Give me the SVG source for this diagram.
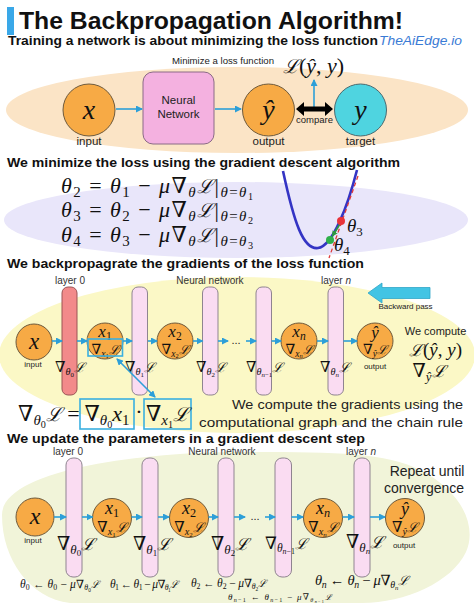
<svg xmlns="http://www.w3.org/2000/svg" width="474" height="603" viewBox="0 0 474 603">
<defs>
<style>
.hd{font-family:"Liberation Sans",Arial,sans-serif;font-weight:bold;fill:#111}
.t{font-family:"Liberation Sans",Arial,sans-serif;fill:#222}
.m{font-family:"Liberation Serif","DejaVu Serif",serif;fill:#111}
.i{font-style:italic}
.L{font-style:italic;font-size:88%}
.s{font-size:68%;baseline-shift:-0.28em}
.node{fill:#f7aa45;stroke:#6e5a3c;stroke-width:1}
.bar{fill:#fadcf2;stroke:#8f8490;stroke-width:1}
.bar0{fill:#f28a8a;stroke:#9a5555;stroke-width:1}
.ar{stroke:#2d9fd8;stroke-width:1.6;fill:none;marker-end:url(#ah)}
.box{fill:none;stroke:#3ab0e0;stroke-width:1.6}
.lb{font-family:"Liberation Sans",Arial,sans-serif;fill:#333;font-size:10px}
</style>
<marker id="ah" markerUnits="userSpaceOnUse" markerWidth="7" markerHeight="7" refX="6" refY="3.5" orient="auto"><path d="M0,0 L7,3.5 L0,7 Z" fill="#2d9fd8"/></marker>
<marker id="ahs" markerUnits="userSpaceOnUse" markerWidth="7" markerHeight="7" refX="1" refY="3.5" orient="auto"><path d="M7,0 L0,3.5 L7,7 Z" fill="#2d9fd8"/></marker>
<marker id="ag" markerUnits="userSpaceOnUse" markerWidth="6" markerHeight="6" refX="5" refY="3" orient="auto"><path d="M0,0 L6,3 L0,6 Z" fill="#2e9a3e"/></marker>
</defs>
<rect width="474" height="603" fill="#ffffff"/>

<!-- backgrounds -->
<ellipse cx="237" cy="110" rx="231" ry="43" fill="#fbe4c6"/>
<ellipse cx="236" cy="220" rx="232" ry="38" fill="#e9e6fa"/>
<ellipse cx="237" cy="355" rx="238" ry="78" fill="#fbf8c6"/>
<path d="M2,515 C2,470 140,452 240,452 C330,452 385,452 420,470 C460,490 478,525 466,552 C452,582 405,603 362,603 L70,603 C30,598 2,560 2,515 Z" fill="#f1f4d9"/>

<!-- title -->
<rect x="7" y="7" width="7" height="28" fill="#3aa8e8"/>
<text class="hd" x="19" y="29" font-size="23" textLength="384" lengthAdjust="spacingAndGlyphs">The Backpropagation Algorithm!</text>
<text class="hd" x="8" y="45" font-size="13.5" textLength="370" lengthAdjust="spacingAndGlyphs">Training a network is about minimizing the loss function</text>
<text x="379" y="45" font-family="Liberation Sans,Arial,sans-serif" font-style="italic" font-size="12.5" fill="#3a7bd5" textLength="83" lengthAdjust="spacingAndGlyphs">TheAiEdge.io</text>

<!-- section 1 -->
<text class="t" x="172" y="64" font-size="9" textLength="102" lengthAdjust="spacingAndGlyphs">Minimize a loss function</text>
<text class="m" x="283" y="73" font-size="22"><tspan class="L">ℒ</tspan>(<tspan class="i">ŷ</tspan>, <tspan class="i">y</tspan>)</text>

<g id="n-input">
<circle class="node" cx="89" cy="110" r="26"/>
<text class="m i" x="89" y="119" font-size="28" text-anchor="middle">x</text>
<text class="t" x="89" y="145" font-size="11.5" text-anchor="middle">input</text>
</g>
<g id="n-nn">
<rect x="143" y="72" width="71" height="72" rx="10" fill="#f4b1e0" stroke="#8a6a86" stroke-width="1"/>
<text class="t" x="178.5" y="104" font-size="11.5" text-anchor="middle">Neural</text>
<text class="t" x="178.5" y="118" font-size="11.5" text-anchor="middle">Network</text>
</g>
<g id="n-output">
<circle class="node" cx="268.5" cy="110" r="26"/>
<text class="m i" x="268.5" y="119" font-size="28" text-anchor="middle">ŷ</text>
<text class="t" x="268.5" y="145" font-size="11.5" text-anchor="middle">output</text>
</g>
<g id="n-target">
<circle cx="360.5" cy="110" r="26" fill="#4fd4e0" stroke="#4a6a70" stroke-width="1"/>
<text class="m i" x="360.5" y="119" font-size="28" text-anchor="middle">y</text>
<text class="t" x="360.5" y="145" font-size="11.5" text-anchor="middle">target</text>
</g>
<g id="c-sec1">
<line class="ar" x1="116" y1="109" x2="142" y2="109"/>
<line class="ar" x1="215" y1="109" x2="241" y2="109"/>
<line class="ar" x1="314" y1="108" x2="314" y2="80"/>
<path d="M296,109 L304,102 L304,106.5 L325,106.5 L325,102 L333,109 L325,116 L325,111.5 L304,111.5 L304,116 Z" fill="#000"/>
<text class="t" x="314.5" y="123" font-size="9.5" text-anchor="middle">compare</text>
</g>

<!-- section 2 -->
<text class="hd" x="7" y="167" font-size="13.5" textLength="393" lengthAdjust="spacingAndGlyphs">We minimize the loss using the gradient descent algorithm</text>
<g id="equations">
<text class="m" x="61" y="193" font-size="22" textLength="192"><tspan class="i">θ</tspan><tspan class="s">2</tspan> = <tspan class="i">θ</tspan><tspan class="s">1</tspan> − <tspan class="i">μ</tspan>∇<tspan class="s i">θ</tspan><tspan class="L">ℒ</tspan>|<tspan class="s"><tspan class="i">θ</tspan>=<tspan class="i">θ</tspan><tspan class="s">1</tspan></tspan></text>
<text class="m" x="61" y="217" font-size="22" textLength="192"><tspan class="i">θ</tspan><tspan class="s">3</tspan> = <tspan class="i">θ</tspan><tspan class="s">2</tspan> − <tspan class="i">μ</tspan>∇<tspan class="s i">θ</tspan><tspan class="L">ℒ</tspan>|<tspan class="s"><tspan class="i">θ</tspan>=<tspan class="i">θ</tspan><tspan class="s">2</tspan></tspan></text>
<text class="m" x="61" y="242" font-size="22" textLength="192"><tspan class="i">θ</tspan><tspan class="s">4</tspan> = <tspan class="i">θ</tspan><tspan class="s">3</tspan> − <tspan class="i">μ</tspan>∇<tspan class="s i">θ</tspan><tspan class="L">ℒ</tspan>|<tspan class="s"><tspan class="i">θ</tspan>=<tspan class="i">θ</tspan><tspan class="s">3</tspan></tspan></text>
</g>
<g id="curve">
<path d="M283,171 C294,222 303,250 318,248 C333,246 348,205 357,170" fill="none" stroke="#3434c4" stroke-width="2.6"/>
<line x1="358" y1="176" x2="329" y2="258" stroke="#e03a3a" stroke-width="1.3" stroke-dasharray="4,3"/>
<line x1="340" y1="224" x2="332.5" y2="236" stroke="#2e9a3e" stroke-width="1.6" marker-end="url(#ag)"/>
<circle cx="341" cy="221" r="4" fill="#e8333a"/>
<circle cx="330" cy="240" r="4" fill="#2fb04a"/>
<text class="m" x="347" y="232" font-size="19"><tspan class="i">θ</tspan><tspan class="s">3</tspan></text>
<text class="m" x="334" y="251" font-size="19"><tspan class="i">θ</tspan><tspan class="s">4</tspan></text>
</g>

<!-- section 3 -->
<text class="hd" x="7" y="268" font-size="13.5" textLength="357" lengthAdjust="spacingAndGlyphs">We backpropagrate the gradients of the loss function</text>
<text class="lb" x="70" y="284" text-anchor="middle">layer 0</text>
<text class="lb" x="210" y="284" text-anchor="middle">Neural network</text>
<text class="lb" x="336" y="284" text-anchor="middle">layer <tspan font-style="italic">n</tspan></text>
<g id="backward-pass">
<path d="M368,293 L382,283 L382,287.5 L430,287.5 L430,298.5 L382,298.5 L382,303 Z" fill="#42c4e4" stroke="#2fa6c8" stroke-width="0.8"/>
<text class="t" x="405.5" y="309" font-size="8" text-anchor="middle">Backward pass</text>
</g>
<g id="b-bars">
<rect id="b-layer0" class="bar0" x="62" y="287" width="15" height="108" rx="6"/>
<rect id="b-layer1" class="bar" x="132" y="287" width="15.5" height="108" rx="6"/>
<rect id="b-layer2" class="bar" x="202.5" y="287" width="15.5" height="108" rx="6"/>
<rect id="b-layer3" class="bar" x="256" y="287" width="15.5" height="108" rx="6"/>
<rect id="b-layern" class="bar" x="328" y="287" width="15.5" height="108" rx="6"/>
</g>
<g id="b-x">
<circle class="node" cx="34" cy="342" r="18"/>
<text class="m i" x="34" y="349" font-size="23" text-anchor="middle">x</text>
<text class="t" x="33" y="367" font-size="8" text-anchor="middle">input</text>
</g>
<g id="b-x1">
<circle class="node" cx="105" cy="341" r="18"/>
<text class="m" x="105" y="337" font-size="17" text-anchor="middle"><tspan class="i">x</tspan><tspan class="s">1</tspan></text>
<text class="m" x="105" y="354" font-size="14" text-anchor="middle">∇<tspan class="s"><tspan class="i">x</tspan><tspan class="s">1</tspan></tspan><tspan class="L">ℒ</tspan></text>
<rect class="box" x="88" y="339" width="34.5" height="17"/>
</g>
<g id="b-x2">
<circle class="node" cx="175" cy="341" r="18"/>
<text class="m" x="175" y="337" font-size="17" text-anchor="middle"><tspan class="i">x</tspan><tspan class="s">2</tspan></text>
<text class="m" x="175" y="354" font-size="14" text-anchor="middle">∇<tspan class="s"><tspan class="i">x</tspan><tspan class="s">2</tspan></tspan><tspan class="L">ℒ</tspan></text>
</g>
<g id="b-xn">
<circle class="node" cx="299" cy="341" r="18"/>
<text class="m" x="299" y="337" font-size="17" text-anchor="middle"><tspan class="i">x</tspan><tspan class="s i">n</tspan></text>
<text class="m" x="299" y="354" font-size="14" text-anchor="middle">∇<tspan class="s"><tspan class="i">x</tspan><tspan class="s i">n</tspan></tspan><tspan class="L">ℒ</tspan></text>
</g>
<g id="b-yhat">
<circle class="node" cx="375" cy="341" r="18"/>
<text class="m i" x="375" y="338" font-size="17" text-anchor="middle">ŷ</text>
<text class="m" x="375" y="354" font-size="14" text-anchor="middle">∇<tspan class="s i">ŷ</tspan><tspan class="L">ℒ</tspan></text>
<text class="t" x="375" y="369" font-size="8" text-anchor="middle">output</text>
</g>
<g id="b-grads">
<text class="m" x="55" y="372" font-size="15">∇<tspan class="s"><tspan class="i">θ</tspan><tspan class="s">0</tspan></tspan><tspan class="L">ℒ</tspan></text>
<text class="m" x="125" y="372" font-size="15">∇<tspan class="s"><tspan class="i">θ</tspan><tspan class="s">1</tspan></tspan><tspan class="L">ℒ</tspan></text>
<text class="m" x="196" y="372" font-size="15">∇<tspan class="s"><tspan class="i">θ</tspan><tspan class="s">2</tspan></tspan><tspan class="L">ℒ</tspan></text>
<text class="m" x="246" y="372" font-size="15">∇<tspan class="s"><tspan class="i">θ</tspan><tspan class="s"><tspan class="i">n</tspan>−1</tspan></tspan><tspan class="L">ℒ</tspan></text>
<text class="m" x="320" y="372" font-size="15">∇<tspan class="s"><tspan class="i">θ</tspan><tspan class="s i">n</tspan></tspan><tspan class="L">ℒ</tspan></text>
</g>
<g id="b-wecompute">
<text class="t" x="435.5" y="335" font-size="11" text-anchor="middle">We compute</text>
<text class="m" x="435.5" y="356" font-size="19" text-anchor="middle"><tspan class="L">ℒ</tspan>(<tspan class="i">ŷ</tspan>, <tspan class="i">y</tspan>)</text>
<text class="m" x="429" y="377" font-size="19" text-anchor="middle">∇<tspan class="s i">ŷ</tspan><tspan class="L">ℒ</tspan></text>
</g>
<g id="c-sec3">
<line class="ar" x1="52" y1="341" x2="62" y2="341"/>
<line class="ar" x1="77" y1="341" x2="87" y2="341"/>
<line class="ar" x1="123" y1="341" x2="132" y2="341"/>
<line class="ar" x1="148" y1="341" x2="157" y2="341"/>
<line class="ar" x1="193" y1="341" x2="202.5" y2="341"/>
<line class="ar" x1="218" y1="341" x2="228" y2="341"/>
<text class="t" x="236" y="344" font-size="11" text-anchor="middle">...</text>
<line class="ar" x1="246" y1="341" x2="256" y2="341"/>
<line class="ar" x1="271.5" y1="341" x2="281" y2="341"/>
<line class="ar" x1="317" y1="341" x2="328" y2="341"/>
<line class="ar" x1="343.5" y1="341" x2="357" y2="341"/>
<line class="ar" x1="117" y1="359" x2="155" y2="397" marker-start="url(#ahs)"/>
</g>
<g id="chain-rule">
<text class="m" x="18" y="421" font-size="22">∇<tspan class="s"><tspan class="i">θ</tspan><tspan class="s">0</tspan></tspan><tspan class="L">ℒ</tspan> =</text>
<rect class="box" x="80" y="399" width="54" height="30"/>
<text class="m" x="107" y="421" font-size="22" text-anchor="middle">∇<tspan class="s"><tspan class="i">θ</tspan><tspan class="s">0</tspan></tspan><tspan class="i">x</tspan><tspan class="s">1</tspan></text>
<text class="m" x="139" y="419" font-size="22" text-anchor="middle">·</text>
<rect class="box" x="144" y="399" width="47" height="30"/>
<text class="m" x="167.5" y="421" font-size="22" text-anchor="middle">∇<tspan class="s"><tspan class="i">x</tspan><tspan class="s">1</tspan></tspan><tspan class="L">ℒ</tspan></text>
</g>
<text class="t" x="232" y="409" font-size="13.5" textLength="231" lengthAdjust="spacingAndGlyphs">We compute the gradients using the</text>
<text class="t" x="199" y="427" font-size="13.5" textLength="264" lengthAdjust="spacingAndGlyphs">computational graph and the chain rule</text>

<!-- section 4 -->
<text class="hd" x="7" y="443" font-size="13.5" textLength="358" lengthAdjust="spacingAndGlyphs">We update the parameters in a gradient descent step</text>
<text class="lb" x="68" y="455" text-anchor="middle">layer 0</text>
<text class="lb" x="222" y="455" text-anchor="middle">Neural network</text>
<text class="lb" x="361" y="455" text-anchor="middle">layer <tspan font-style="italic">n</tspan></text>
<text class="t" x="427" y="476" font-size="14" text-anchor="middle">Repeat until</text>
<text class="t" x="424" y="493" font-size="14" text-anchor="middle">convergence</text>
<g id="u-bars">
<rect id="u-layer0" class="bar" x="66" y="458" width="16" height="119" rx="7"/>
<rect id="u-layer1" class="bar" x="142" y="458" width="16" height="119" rx="7"/>
<rect id="u-layer2" class="bar" x="218" y="458" width="16" height="119" rx="7"/>
<rect id="u-layer3" class="bar" x="275" y="458" width="16.5" height="119" rx="7"/>
<rect id="u-layern" class="bar" x="354" y="458" width="16" height="119" rx="7"/>
</g>
<g id="u-x">
<circle class="node" cx="35" cy="517" r="19"/>
<text class="m i" x="35" y="524" font-size="24" text-anchor="middle">x</text>
<text class="t" x="33" y="543" font-size="8" text-anchor="middle">input</text>
</g>
<g id="u-x1">
<circle class="node" cx="112" cy="518" r="19.5"/>
<text class="m" x="112" y="514" font-size="18" text-anchor="middle"><tspan class="i">x</tspan><tspan class="s">1</tspan></text>
<text class="m" x="112" y="532" font-size="15" text-anchor="middle">∇<tspan class="s"><tspan class="i">x</tspan><tspan class="s">1</tspan></tspan><tspan class="L">ℒ</tspan></text>
</g>
<g id="u-x2">
<circle class="node" cx="189" cy="518" r="19.5"/>
<text class="m" x="189" y="514" font-size="18" text-anchor="middle"><tspan class="i">x</tspan><tspan class="s">2</tspan></text>
<text class="m" x="189" y="532" font-size="15" text-anchor="middle">∇<tspan class="s"><tspan class="i">x</tspan><tspan class="s">2</tspan></tspan><tspan class="L">ℒ</tspan></text>
</g>
<g id="u-xn">
<circle class="node" cx="323" cy="518" r="19.5"/>
<text class="m" x="323" y="514" font-size="18" text-anchor="middle"><tspan class="i">x</tspan><tspan class="s i">n</tspan></text>
<text class="m" x="323" y="532" font-size="15" text-anchor="middle">∇<tspan class="s"><tspan class="i">x</tspan><tspan class="s i">n</tspan></tspan><tspan class="L">ℒ</tspan></text>
</g>
<g id="u-yhat">
<circle class="node" cx="405" cy="518" r="19.5"/>
<text class="m i" x="405" y="515" font-size="18" text-anchor="middle">ŷ</text>
<text class="m" x="405" y="532" font-size="15" text-anchor="middle">∇<tspan class="s i">ŷ</tspan><tspan class="L">ℒ</tspan></text>
<text class="t" x="404" y="548" font-size="8" text-anchor="middle">output</text>
</g>
<g id="u-grads">
<text class="m" x="57" y="550" font-size="19">∇<tspan class="s"><tspan class="i">θ</tspan><tspan class="s">0</tspan></tspan><tspan class="L">ℒ</tspan></text>
<text class="m" x="133" y="550" font-size="19">∇<tspan class="s"><tspan class="i">θ</tspan><tspan class="s">1</tspan></tspan><tspan class="L">ℒ</tspan></text>
<text class="m" x="211" y="550" font-size="19">∇<tspan class="s"><tspan class="i">θ</tspan><tspan class="s">2</tspan></tspan><tspan class="L">ℒ</tspan></text>
<text class="m" x="265" y="549" font-size="17">∇<tspan class="s"><tspan class="i">θ</tspan><tspan class="s"><tspan class="i">n</tspan>−1</tspan></tspan><tspan class="L">ℒ</tspan></text>
<text class="m" x="346" y="548" font-size="19">∇<tspan class="s"><tspan class="i">θ</tspan><tspan class="s i">n</tspan></tspan><tspan class="L">ℒ</tspan></text>
</g>
<g id="c-sec4">
<line class="ar" x1="54" y1="517" x2="66" y2="517"/>
<line class="ar" x1="82" y1="517" x2="92.5" y2="517"/>
<line class="ar" x1="131.5" y1="517" x2="142" y2="517"/>
<line class="ar" x1="158" y1="517" x2="169" y2="517"/>
<line class="ar" x1="208.5" y1="517" x2="218" y2="517"/>
<line class="ar" x1="234" y1="517" x2="245" y2="517"/>
<text class="t" x="255" y="520" font-size="11" text-anchor="middle">...</text>
<line class="ar" x1="265" y1="517" x2="275" y2="517"/>
<line class="ar" x1="291.5" y1="517" x2="303" y2="517"/>
<line class="ar" x1="342.5" y1="517" x2="354" y2="517"/>
<line class="ar" x1="370" y1="517" x2="385" y2="517"/>
</g>
<g id="updates">
<text class="m" x="20" y="588" font-size="11.5" textLength="79"><tspan class="i">θ</tspan><tspan class="s">0</tspan> ← <tspan class="i">θ</tspan><tspan class="s">0</tspan> − <tspan class="i">μ</tspan>∇<tspan class="s"><tspan class="i">θ</tspan><tspan class="s">0</tspan></tspan><tspan class="L">ℒ</tspan></text>
<text class="m" x="110" y="588" font-size="11.5" textLength="68"><tspan class="i">θ</tspan><tspan class="s">1</tspan> ← <tspan class="i">θ</tspan><tspan class="s">1</tspan> − <tspan class="i">μ</tspan>∇<tspan class="s"><tspan class="i">θ</tspan><tspan class="s">1</tspan></tspan><tspan class="L">ℒ</tspan></text>
<text class="m" x="191" y="587" font-size="11.5" textLength="75"><tspan class="i">θ</tspan><tspan class="s">2</tspan> ← <tspan class="i">θ</tspan><tspan class="s">2</tspan> − <tspan class="i">μ</tspan>∇<tspan class="s"><tspan class="i">θ</tspan><tspan class="s">2</tspan></tspan><tspan class="L">ℒ</tspan></text>
<text class="m" x="315" y="585" font-size="14.5" textLength="94"><tspan class="i">θ</tspan><tspan class="s i">n</tspan> ← <tspan class="i">θ</tspan><tspan class="s i">n</tspan> − <tspan class="i">μ</tspan>∇<tspan class="s"><tspan class="i">θ</tspan><tspan class="s i">n</tspan></tspan><tspan class="L">ℒ</tspan></text>
<text class="m" x="228" y="600" font-size="9" textLength="104"><tspan class="i">θ</tspan><tspan class="s"><tspan class="i">n</tspan>−1</tspan> ← <tspan class="i">θ</tspan><tspan class="s"><tspan class="i">n</tspan>−1</tspan> − <tspan class="i">μ</tspan>∇<tspan class="s"><tspan class="i">θ</tspan><tspan class="s"><tspan class="i">n</tspan>−1</tspan></tspan><tspan class="L">ℒ</tspan></text>
</g>
</svg>
